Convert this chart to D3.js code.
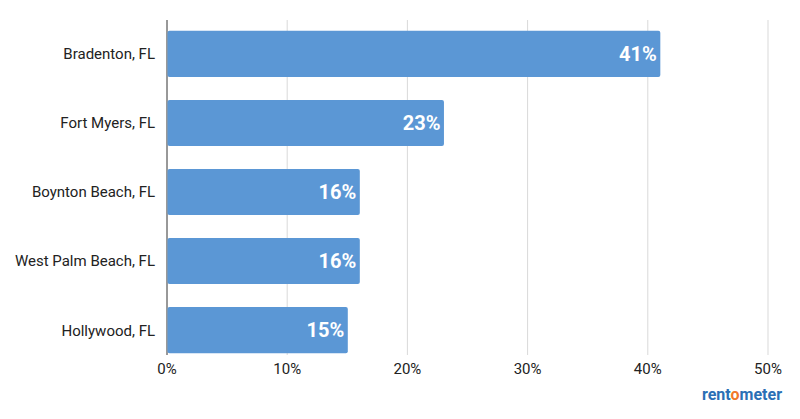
<!DOCTYPE html>
<html><head><meta charset="utf-8">
<script src="https://cdn.jsdelivr.net/npm/d3@7"></script>
<style>body{margin:0;background:#fff;font-family:Roboto,sans-serif}</style>
</head><body><svg id="c" width="800" height="419"></svg>
<script>
const cities = ["Bradenton, FL", "Fort Myers, FL", "Boynton Beach, FL", "West Palm Beach, FL", "Hollywood, FL"];
const shares = [41, 23, 16, 16, 15];
const ticks = [0, 10, 20, 30, 40, 50];

const svg = d3.select("#c");
const x = d3.scaleLinear().domain([0, 50]).range([167, 768]);
const y = d3.scaleBand().domain(cities).range([17, 367]).paddingInner(0.333).paddingOuter(0.2);

svg.append("g").selectAll("line").data(ticks.slice(1)).enter().append("line")
    .attr("x1", d => x(d)).attr("x2", d => x(d))
    .attr("y1", 20).attr("y2", 355)
    .attr("stroke", "#d9d9d9").attr("stroke-width", 1);

svg.append("line").attr("x1", x(0)).attr("x2", x(0)).attr("y1", 20).attr("y2", 355)
    .attr("stroke", "#333").attr("stroke-width", 1);

svg.append("g").selectAll("rect").data(cities).enter().append("rect")
    .attr("x", x(0) + 0.5)
    .attr("y", d => y(d))
    .attr("width", (d, i) => x(shares[i]) - x(0))
    .attr("height", y.bandwidth())
    .attr("rx", 2)
    .attr("fill", "#5b97d5");

svg.append("g").selectAll("text").data(cities).enter().append("text")
    .attr("x", (d, i) => x(shares[i]) - 3)
    .attr("y", d => y(d) + y.bandwidth() / 2)
    .attr("dy", "0.36em")
    .attr("text-anchor", "end")
    .attr("fill", "#fff").attr("font-size", 20).attr("font-weight", "bold")
    .text((d, i) => shares[i] + "%");

svg.append("g").selectAll("text").data(cities).enter().append("text")
    .attr("x", 155)
    .attr("y", d => y(d) + y.bandwidth() / 2)
    .attr("dy", "0.36em")
    .attr("text-anchor", "end")
    .attr("fill", "#222").attr("font-size", 15)
    .text(d => d);

svg.append("g").selectAll("text").data(ticks).enter().append("text")
    .attr("x", d => x(d)).attr("y", 374)
    .attr("text-anchor", "middle")
    .attr("fill", "#222").attr("font-size", 15)
    .text(d => d + "%");

const logo = svg.append("text").attr("x", 782).attr("y", 400).attr("text-anchor", "end")
    .attr("font-size", 16).attr("font-weight", "bold").attr("fill", "#2a6fb5");
logo.append("tspan").text("rent");
logo.append("tspan").attr("fill", "#f07a2a").text("o");
logo.append("tspan").text("meter");
</script></body></html>
